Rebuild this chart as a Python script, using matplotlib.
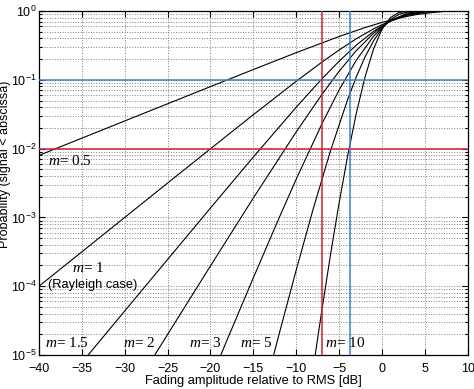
import matplotlib
matplotlib.use("Agg")
import matplotlib.pyplot as plt
import matplotlib.ticker as mticker

plt.rcParams['font.family'] = ['Liberation Sans', 'DejaVu Sans']
plt.rcParams['mathtext.fontset'] = 'custom'
plt.rcParams['mathtext.it'] = 'Liberation Serif:italic'
plt.rcParams['mathtext.rm'] = 'Liberation Serif'

# Nakagami fading CDF curves
x_m05 = [-40, -35, -30, -25, -20, -15, -10, -5, -2, 0, 2, 4, 6, 7]
p_m05 = [0.00798, 0.01419, 0.02523, 0.04485, 0.07966, 0.1411, 0.2482, 0.4261, 0.5730, 0.6827, 0.7920, 0.8871, 0.9540, 0.9757]

x_m1 = [-40, -35, -30, -25, -20, -15, -10, -7, -5, -3, -1, 0, 1, 3, 5, 7]
p_m1 = [1.0e-4, 3.162e-4, 1.0e-3, 3.157e-3, 9.95e-3, 0.03113, 0.09516, 0.1809, 0.2711, 0.3942, 0.5481, 0.6321, 0.7160, 0.8640, 0.9577, 0.9933]

x_m15 = [-36, -34, -30, -25, -20, -15, -10, -7, -5, -3, -1, 0, 1, 3, 5, 7]
p_m15 = [5.50e-6, 1.097e-5, 4.37e-5, 2.45e-4, 1.370e-3, 7.553e-3, 0.03997, 0.1033, 0.1863, 0.3186, 0.5032, 0.6084, 0.7134, 0.8893, 0.9765, 0.9982]

x_m2 = [-28, -25, -20, -15, -10, -7, -5, -3, -1, 0, 1, 3, 5, 7]
p_m2 = [5.01e-6, 1.992e-5, 1.974e-4, 1.918e-3, 0.01752, 0.06129, 0.1327, 0.2653, 0.4714, 0.5940, 0.7163, 0.9077, 0.9869, 0.9995]

x_m3 = [-20, -18, -15, -12, -10, -7, -5, -3, -1, 0, 1, 3, 5, 7]
p_m3 = [4.4e-6, 1.729e-5, 1.326e-4, 9.81e-4, 3.600e-3, 0.02292, 0.07111, 0.1920, 0.4257, 0.5768, 0.7274, 0.9374, 0.9958, 1.0]

x_m5 = [-13, -12, -10, -8, -6, -4, -3, -2, -1, 0, 1, 2, 3, 5, 7]
p_m5 = [6.69e-6, 2.006e-5, 1.721e-4, 1.354e-3, 9.30e-3, 0.05179, 0.1098, 0.2115, 0.3656, 0.5595, 0.7525, 0.8960, 0.9703, 0.9995, 1.0]

x_m10 = [-8, -7.5, -7, -6, -5, -4, -3, -2, -1, 0, 1, 2, 3, 4, 5, 7]
p_m10 = [6.58e-6, 1.751e-5, 4.56e-5, 2.877e-4, 1.618e-3, 7.884e-3, 0.03227, 0.1069, 0.2764, 0.5421, 0.8053, 0.9534, 0.9949, 0.9998, 1.0, 1.0]

curves = [(x_m05, p_m05), (x_m1, p_m1), (x_m15, p_m15), (x_m2, p_m2),
          (x_m3, p_m3), (x_m5, p_m5), (x_m10, p_m10)]

# reference lines
red_x, blue_x = -7.0, -3.7
red_p, blue_p = 0.01, 0.1

# curve labels: (text, x, y)
labels = [("$m$= 0.5", -39.0, 6.7e-3),
          ("$m$= 1", -36.1, 1.85e-4),
          ("$m$= 1.5", -39.3, 1.5e-5),
          ("$m$= 2", -30.2, 1.5e-5),
          ("$m$= 3", -22.5, 1.5e-5),
          ("$m$= 5", -16.5, 1.5e-5),
          ("$m$= 10", -6.7, 1.5e-5)]

fig = plt.figure(figsize=(4.74, 3.89), dpi=100)
ax = fig.add_axes([0.0823, 0.0874, 0.9044, 0.8843])

for xs, ps in curves:
    ax.semilogy(xs, ps, color='k', lw=0.8, zorder=3)

red = '#cc2233'
blue = '#3f7fcf'
ax.axhline(blue_p, color=blue, lw=1.1, zorder=4)
ax.axhline(red_p, color=red, lw=1.1, zorder=4)
ax.axvline(red_x, color=red, lw=1.1, zorder=4)
ax.axvline(blue_x, color=blue, lw=1.1, zorder=4)

for txt, lx, ly in labels:
    ax.text(lx, ly, txt, fontsize=11, family='Liberation Serif',
            va='center', ha='left', zorder=5)
ax.text(-38.9, 1.04e-4, "(Rayleigh case)", fontsize=9.3, va='center', ha='left', zorder=5)

ax.set_xlim(-40, 10)
ax.set_ylim(1e-5, 1)
ax.set_xticks(range(-40, 11, 5))
ax.yaxis.set_major_locator(mticker.LogLocator(base=10, numticks=10))
ax.yaxis.set_minor_locator(mticker.LogLocator(base=10, subs=range(2, 10), numticks=10))
ax.yaxis.set_minor_formatter(mticker.NullFormatter())

ax.grid(True, which='major', axis='both', linestyle=':', color='0.5', lw=0.7)
ax.grid(True, which='minor', axis='y', linestyle=':', color='0.5', lw=0.7)
ax.set_axisbelow(True)

ax.tick_params(which='both', direction='in', top=True, right=True, labelsize=9, width=0.8)
ax.tick_params(which='major', length=4)
ax.tick_params(axis='x', which='major', pad=5.5)
ax.tick_params(axis='y', which='major', pad=2)
ax.tick_params(which='minor', length=2)
for s in ax.spines.values():
    s.set_linewidth(0.9)

ax.set_xlabel("Fading amplitude relative to RMS [dB]", fontsize=9.3, labelpad=0)
ax.set_ylabel("Probability (signal < abscissa)", fontsize=9)
ax.yaxis.set_label_coords(-0.066, 0.555)

fig.savefig("out.png", dpi=100)
